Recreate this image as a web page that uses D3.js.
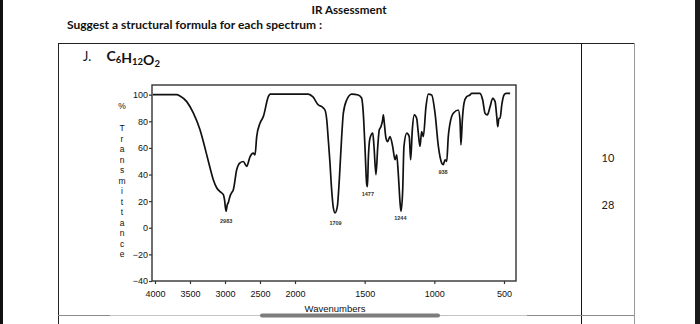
<!DOCTYPE html>
<html><head><meta charset="utf-8">
<script src="https://cdn.jsdelivr.net/npm/d3@7"></script>
<style>body{margin:0;background:#fff}svg{display:block}</style>
</head><body><svg id="c" width="700" height="324"></svg>
<script>
// ---- data ----
const wavenumbers = [4030,3690,3643,3547,3453,3357,3310,3261,3214,3167,3119,3071,3024,3007,2986,2967,2953,2929,2904,2881,2833,2786,2739,2690,2643,2596,2571,2547,2500,2453,2381,2357,
  1905,1871,1833,1808,1785,1772,1761,1749,1737,1725,1713,1696,1682,1665,1653,1629,1593,1546,1522,1510,1498,1485,1480,1474,1462,1442,1433,1419,1406,1395,1383,1371,1366,1359,1347,1335,1318,1299,1282,1270,1259,1246,1239,1227,1218,1198,1180,1170,1158,1144,1127,1115,1103,1091,1079,1060,1043,1019,995,971,947,936,923,911,900,888,864,828,816,809,799,787,768,744,732,673,653,636,620,600,581,564,552,545,536,528,516,500,485,456];
const transmittance = [100,100,99,94.8,86.3,73.6,64.8,54.8,45.1,36.1,30.1,27.1,24.9,21.1,12.4,17.4,18.9,23.6,26.4,28.6,43.6,48.8,49.8,46.1,53.3,56.1,54.8,68.5,78.6,83.5,98.5,100.5,
  100.5,98.3,92.3,91,88.5,81,66,48.8,28.6,15.1,11.2,16.1,36.1,68.5,86.1,96,100.5,99.8,97.5,86.3,61.1,32.4,30.9,51.1,67.3,71.1,61.1,39.9,61.1,73.6,76,81,84.8,78.6,67.3,64.8,68.5,61.1,51.1,54.8,41.1,18.9,12.4,28.6,61.1,71.1,68.5,51.1,73.6,84.8,82.3,71.1,61.1,72.3,68.5,91,100.5,99.8,86.1,61.1,48.6,47.4,51.1,49.8,68.5,78,86.1,88.5,81,62.3,81,93.6,98.5,99.8,101,101,96,86.1,84.8,91,97.3,94.8,83.5,76,82.3,82.3,92.3,99.8,101,101];
const xTicks = [4000,3500,3000,2500,2000,1500,1000,500];
const yTicks = [100,80,60,40,20,0,-20,-40];
const peakWavenumbers = [2983,1709,1477,1244,938];
const peakT = [12.4,11.2,30.9,15.1,47.4];
const peakLabels = ["2983","1709","1477","1244","938"];
const yLetters = ["%","T","r","a","n","s","m","i","t","t","a","n","c","e"];
const cellValues = ["10","28"];

// ---- drawing ----
const svg = d3.select("#c");
const L=152, R=516, T=85, B=281;
const x = d3.scaleLinear().domain([4000,2000,500]).range([155,295,504]);
const y = d3.scaleLinear().domain([-40,100]).range([B,94.7]);

// page edges
svg.append("rect").attr("x",0).attr("y",0).attr("width",3).attr("height",324).attr("fill","#111");
svg.append("rect").attr("x",695).attr("y",0).attr("width",5).attr("height",324).attr("fill","#1a1a1a");

// headings
svg.append("text").attr("x",349).attr("y",14).attr("text-anchor","middle")
  .attr("font-family","Lato, 'Open Sans', sans-serif").attr("font-weight","bold").attr("font-size",12)
  .attr("fill","#111").attr("textLength",75).attr("lengthAdjust","spacingAndGlyphs").text("IR Assessment");
svg.append("text").attr("x",67).attr("y",29)
  .attr("font-family","Lato, 'Open Sans', sans-serif").attr("font-weight","bold").attr("font-size",12)
  .attr("fill","#111").attr("textLength",255).attr("lengthAdjust","spacingAndGlyphs")
  .text("Suggest a structural formula for each spectrum :");

// table lines
const tl = svg.append("g");
tl.append("line").attr("x1",58).attr("x2",634).attr("y1",43.5).attr("y2",43.5).attr("stroke","#222").attr("stroke-width",1);
tl.append("line").attr("x1",58.5).attr("x2",58.5).attr("y1",43).attr("y2",324).attr("stroke","#222").attr("stroke-width",1);
tl.append("line").attr("x1",581.5).attr("x2",581.5).attr("y1",43).attr("y2",324).attr("stroke","#111").attr("stroke-width",1);
tl.append("line").attr("x1",634.5).attr("x2",634.5).attr("y1",43).attr("y2",324).attr("stroke","#999").attr("stroke-width",1);
tl.append("line").attr("x1",58).attr("x2",634).attr("y1",315.5).attr("y2",315.5).attr("stroke","#c4c4c4").attr("stroke-width",1);
tl.append("line").attr("x1",58).attr("x2",110).attr("y1",315.5).attr("y2",315.5).attr("stroke","#8a8a8a").attr("stroke-width",1);
tl.append("line").attr("x1",527).attr("x2",634).attr("y1",315.5).attr("y2",315.5).attr("stroke","#8a8a8a").attr("stroke-width",1);
tl.append("rect").attr("x",260).attr("y",313.5).attr("width",180).attr("height",4).attr("rx",2).attr("fill","#7d7d7d");

// row label
const rl = svg.append("text").attr("y",61).attr("font-family","Lato, 'Open Sans', sans-serif").attr("fill","#111");
rl.append("tspan").attr("x",83).attr("font-size",12.5).text("J.");
const f = rl.append("tspan").attr("x",106.5).attr("font-weight","bold").attr("font-size",14);
[["C",0],["6",1],["H",0],["12",1],["O",0],["2",1]].forEach(([s,sub])=>{
  f.append("tspan").attr("font-size",sub?9.5:14).attr("dy",sub?2:0).text(s);
  if(sub) f.append("tspan").attr("dy",-2).text("");
});

// right column values
svg.selectAll(".cv").data(cellValues).enter().append("text")
  .attr("x",608).attr("y",(d,i)=>162+i*46.5).attr("text-anchor","middle")
  .attr("font-family","Lato, 'Open Sans', sans-serif").attr("font-size",11).attr("fill","#222").text(d=>d);

// plot frame
svg.append("rect").attr("x",L).attr("y",T).attr("width",R-L).attr("height",B-T)
  .attr("fill","none").attr("stroke","#333").attr("stroke-width",1.4);

// axes
const ya = svg.append("g").attr("transform",`translate(${L},0)`)
  .call(d3.axisLeft(y).tickValues(yTicks).tickSize(3).tickPadding(1).tickFormat(d3.format("d")));
const xa = svg.append("g").attr("transform",`translate(0,${B})`)
  .call(d3.axisBottom(x).tickValues(xTicks).tickSize(3).tickPadding(7).tickFormat(d3.format("d")));
[ya,xa].forEach(g=>{
  g.select(".domain").remove();
  g.selectAll(".tick line").attr("stroke","#333").attr("stroke-width",1.2);
  g.selectAll("text").attr("font-family","'Liberation Sans', Arial, sans-serif").attr("font-size",9).attr("fill","#111");
});

// axis titles
svg.append("text").attr("x",335).attr("y",312).attr("text-anchor","middle")
  .attr("font-family","'Liberation Sans', Arial, sans-serif").attr("font-size",9.5).attr("fill","#111").text("Wavenumbers");
svg.selectAll(".yl").data(yLetters).enter().append("text")
  .attr("x",122).attr("y",(d,i)=> i===0 ? 109 : 120.5 + i*10.5).attr("text-anchor","middle")
  .attr("font-family","'Liberation Sans', Arial, sans-serif").attr("font-size",8.5).attr("fill","#111").text(d=>d);

// spectrum
const pts = wavenumbers.map((w,i)=>[x(w), y(transmittance[i])]);
svg.append("path").attr("d", d3.line().curve(d3.curveMonotoneX)(pts))
  .attr("fill","none").attr("stroke","#111").attr("stroke-width",1.7).attr("stroke-linejoin","round");

// peak labels
svg.selectAll(".pk").data(peakLabels).enter().append("text")
  .attr("x",(d,i)=>x(peakWavenumbers[i])).attr("y",(d,i)=>y(peakT[i]) + (peakT[i]>25?9:12))
  .attr("text-anchor","middle").attr("font-family","'Liberation Sans', Arial, sans-serif")
  .attr("font-size",5.5).attr("font-weight","bold").attr("fill","#333").text(d=>d);
</script></body></html>
